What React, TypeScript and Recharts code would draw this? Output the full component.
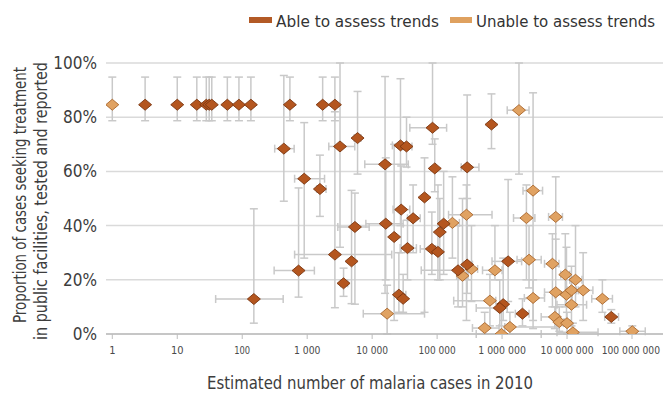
import React from 'react';
import { ScatterChart, Scatter, XAxis, YAxis, CartesianGrid, ErrorBar } from 'recharts';

const FONT = "'Liberation Sans Narrow', 'DejaVu Sans Condensed', 'Open Sans', sans-serif";

const xTicks = [1, 10, 100, 1000, 10000, 100000, 1000000, 10000000, 100000000];
const yTicks = [0, 20, 40, 60, 80, 100];

// Able to assess trends
const ableX = [3.2, 10, 20, 28, 31, 34, 59, 89, 136, 542, 1730, 2670,
  437, 900, 1570, 3200, 5960, 5430, 737, 151, 2670, 4820, 3630,
  27300, 33800, 15800, 85000, 92000, 290000, 687000, 64000, 28000, 42700, 16200,
  126000, 110000, 21800, 35000, 83000, 103000, 210000, 290000, 1240000, 25800, 30000,
  1040000, 920000, 2060000, 48000000];
const ableY = [84.6, 84.6, 84.6, 84.6, 84.6, 84.6, 84.6, 84.6, 84.6, 84.6, 84.6, 84.6,
  68.4, 57.3, 53.5, 69.2, 72.3, 39.5, 23.4, 12.9, 29.3, 26.8, 18.7,
  69.6, 69.2, 62.6, 76.1, 61.1, 61.5, 77.3, 50.4, 45.9, 42.7, 40.7,
  40.7, 37.6, 35.8, 31.7, 31.4, 30.3, 23.5, 25.6, 26.8, 14.5, 13,
  11, 9.6, 7.5, 6.3];
const ableXLow = [null, null, null, null, null, null, null, null, null, null, null, null,
  316, 640, 1400, 2150, 5300, 2960, 310, 39, 640, null, 3270,
  20500, 30000, 7700, 38000, null, 235000, null, null, 21000, 35000, 8000,
  null, null, null, 27000, 55000, null, 57000, 250000, 700000, 22000, null,
  null, 400000, 1600000, 38000000];
const ableXHigh = [null, null, null, null, null, null, null, null, null, null, null, null,
  630, 1850, 1950, 5400, 6700, 9000, 1290, 427, 20000, null, 4200,
  33000, 41000, 36000, 140000, null, 440000, null, null, 38000, 55000, 30000,
  null, null, null, 48000, 95000, null, 230000, 350000, 2000000, 33000, null,
  null, 1200000, 2600000, 62000000];
const ableYLow = [78.7, 78.7, 78.7, 78.7, 78.7, 78.7, 78.7, 78.7, 78.7, 78.7, 78.7, 78.7,
  49, 28, 43.4, 32, 59, 11, 13.6, 4, 9.7, 11.2, 13.9,
  40, 61.6, 15, 70, 52.5, 20, 68.4, 8, 30, 30, 20,
  22, 20, 5, 20, 22, 20, 10, 15, 12, 8, 8,
  5, 3, 3, 4];
const ableYHigh = [94.8, 94.8, 94.8, 94.8, 94.8, 94.8, 94.8, 94.8, 94.8, 94.8, 94.8, 94.8,
  95.4, 78, 66, 100, 89.5, 52, 53.9, 46.2, 82, 53, 24.3,
  94.2, 80, 95, 100, 72, 88.2, 88.6, 65, 62, 55, 65,
  60, 50, 70, 42, 45, 55, 40, 50, 57, 30, 22,
  28, 20, 13, 9];

// Unable to assess trends
const unableX = [1, 1820000, 3000000, 172000, 283000, 338000, 246000, 776000, 2600000, 5960000,
  6700000, 2370000, 17000, 650000, 540000, 980000, 1320000, 3000000, 6700000, 9400000,
  13500000, 9800000, 11700000, 17700000, 11700000, 35000000, 6500000, 7600000, 10000000, 12300000,
  101000000];
const unableY = [84.6, 82.6, 52.9, 41, 44, 24, 21.5, 23.5, 27.4, 25.9,
  43.2, 42.8, 7.5, 12.3, 2.2, 0, 2.6, 13.3, 15.4, 21.9,
  20, 14.5, 16.1, 16.1, 10.8, 13, 6.3, 4.4, 4, 0.6,
  1];
const unableXLow = [null, 1200000, 2100000, 130000, 150000, 280000, 200000, 500000, 1700000, 4500000,
  5200000, 1500000, 7300, 180000, 350000, 400000, 1100000, 2200000, 4500000, 8000000,
  11000000, 6500000, 10000000, 14000000, 7000000, 24000000, 4000000, 6500000, 8800000, 7000000,
  65000000];
const unableXHigh = [null, 2600000, 4200000, 220000, 700000, 420000, 300000, 1000000, 4000000, 7500000,
  8500000, 3200000, 64000, 800000, 900000, 4000000, 7000000, 4500000, 9500000, 11000000,
  17000000, 12000000, 15000000, 25000000, 20000000, 50000000, 7500000, 9000000, 11500000, 30000000,
  160000000];
const unableYLow = [78.7, 59, 2, 28, 5, 12, 10, 20, 17, 10,
  25, 20, 0, 3, 0, 0, 0, 5, 5, 10,
  10, 5, 10, 5, 3, 8, 2, 1, 0, 0,
  0];
const unableYHigh = [94.8, 100, 89, 58, 55, 40, 50, 40, 40, 37,
  58, 55, 18, 22, 8, 10, 8, 20, 35, 37,
  40, 32, 25, 30, 20, 20, 10, 10, 8, 4,
  3];

type Pt = { x: number; y: number; ex: number[] | null; ey: number[] };

function build(xs: number[], ys: number[], xl: (number | null)[], xh: (number | null)[], yl: number[], yh: number[]): Pt[] {
  return xs.map((x, i) => ({
    x,
    y: ys[i],
    ex: xl[i] == null || xh[i] == null ? null : [x - (xl[i] as number), (xh[i] as number) - x],
    ey: [ys[i] - yl[i], yh[i] - ys[i]],
  }));
}

const ableData = build(ableX, ableY, ableXLow, ableXHigh, ableYLow, ableYHigh);
const unableData = build(unableX, unableY, unableXLow, unableXHigh, unableYLow, unableYHigh);

const DARK = '#b4561f';
const DARK_STROKE = '#7a3510';
const LIGHT = '#e0a262';
const LIGHT_STROKE = '#a9662c';
const ERR = '#c9c9c9';

const makeDiamond = (fill: string, stroke: string) => (props: any) => {
  const { cx, cy } = props;
  if (cx == null || cy == null) return <g />;
  return (
    <polygon
      points={`${cx - 6.5},${cy} ${cx},${cy - 5.5} ${cx + 6.5},${cy} ${cx},${cy + 5.5}`}
      fill={fill}
      stroke={stroke}
      strokeWidth={0.9}
    />
  );
};

const noShape = () => <g />;

const fmtX = (v: number) => String(Math.round(v)).replace(/\B(?=(\d{3})+(?!\d))/g, ' ');

const XTick = (props: any) => {
  const { x, y, payload } = props;
  const label = fmtX(payload.value);
  const len = label.length;
  const w = len * 5.3;
  const rightEdge = 660;
  const overflow = x + w / 2 > rightEdge;
  return (
    <text
      x={overflow ? rightEdge : x}
      y={y + 13}
      textAnchor={overflow ? 'end' : 'middle'}
      fontSize={11}
      fill="#4a4a4a"
      fontFamily={FONT}
      {...(len > 2 ? { textLength: w, lengthAdjust: 'spacingAndGlyphs' } : {})}
    >
      {label}
    </text>
  );
};

export default function App() {
  return (
    <div style={{ position: 'absolute', left: 0, top: 0, width: 664, height: 394, background: '#fff' }}>
      <ScatterChart width={664} height={394} margin={{ top: 63, right: 1, bottom: 0, left: 0 }}>
        <CartesianGrid vertical={false} stroke="#dadada" strokeWidth={1.5} />
        <XAxis
          type="number"
          dataKey="x"
          scale="log"
          domain={[0.8, 300000000]}
          allowDataOverflow
          ticks={xTicks}
          tickFormatter={fmtX}
          height={60}
          axisLine={{ stroke: '#bdbdbd', strokeWidth: 1.5 }}
          tickLine={{ stroke: '#bdbdbd' }}
          tickSize={5}
          tickMargin={2}
          tick={<XTick />}
          interval={0}
        />
        <YAxis
          type="number"
          dataKey="y"
          domain={[0, 100]}
          allowDataOverflow
          ticks={yTicks}
          tickFormatter={(v: number) => `${v}%`}
          width={106}
          axisLine={false}
          tickLine={false}
          tickSize={0}
          tickMargin={9}
          tick={{ fontSize: 17, fill: '#3d3d3d', fontFamily: FONT }}
          interval={0}
        />
        <Scatter data={ableData} shape={noShape} isAnimationActive={false}>
          <ErrorBar dataKey="ey" direction="y" stroke={ERR} strokeWidth={1.5} width={4} isAnimationActive={false} />
          <ErrorBar dataKey="ex" direction="x" stroke={ERR} strokeWidth={1.5} width={4} isAnimationActive={false} />
        </Scatter>
        <Scatter data={unableData} shape={noShape} isAnimationActive={false}>
          <ErrorBar dataKey="ey" direction="y" stroke={ERR} strokeWidth={1.5} width={4} isAnimationActive={false} />
          <ErrorBar dataKey="ex" direction="x" stroke={ERR} strokeWidth={1.5} width={4} isAnimationActive={false} />
        </Scatter>
        <Scatter data={unableData} shape={makeDiamond(LIGHT, LIGHT_STROKE)} isAnimationActive={false} />
        <Scatter data={ableData} shape={makeDiamond(DARK, DARK_STROKE)} isAnimationActive={false} />
      </ScatterChart>
      <svg width={664} height={394} style={{ position: 'absolute', left: 0, top: 0, pointerEvents: 'none' }}>
        <rect x={249} y={17} width={23} height={6} fill="#b35a26" />
        <text x={276} y={27} fontSize={16} fill="#333" fontFamily={FONT} textLength={163} lengthAdjust="spacingAndGlyphs">
          Able to assess trends
        </text>
        <rect x={450} y={17} width={22} height={6} fill="#dfa15f" />
        <text x={476} y={27} fontSize={16} fill="#333" fontFamily={FONT} textLength={179} lengthAdjust="spacingAndGlyphs">
          Unable to assess trends
        </text>
        <text
          transform="translate(26,195) rotate(-90)"
          textAnchor="middle"
          fontSize={18}
          fill="#3d3d3d"
          fontFamily={FONT}
          textLength={256}
          lengthAdjust="spacingAndGlyphs"
        >
          Proportion of cases seeking treatment
        </text>
        <text
          transform="translate(47,201) rotate(-90)"
          textAnchor="middle"
          fontSize={18}
          fill="#3d3d3d"
          fontFamily={FONT}
          textLength={278}
          lengthAdjust="spacingAndGlyphs"
        >
          in public facilities, tested and reported
        </text>
        <text
          x={370}
          y={389}
          textAnchor="middle"
          fontSize={18}
          fill="#3d3d3d"
          fontFamily={FONT}
          textLength={326}
          lengthAdjust="spacingAndGlyphs"
        >
          Estimated number of malaria cases in 2010
        </text>
      </svg>
    </div>
  );
}
